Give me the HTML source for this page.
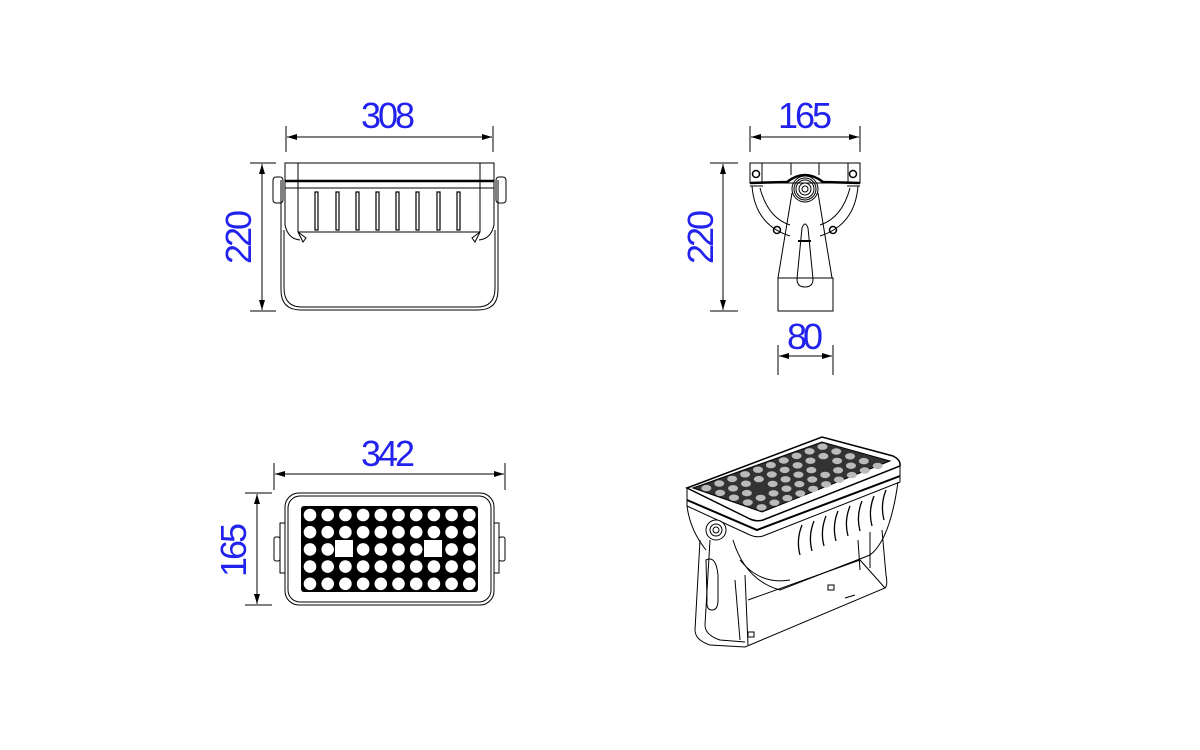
<!DOCTYPE html>
<html><head><meta charset="utf-8"><style>
html,body{margin:0;padding:0;background:#fff;}
svg{display:block;}
text{font-family:"Liberation Sans",sans-serif;font-size:36px;fill:#2222ee;}
</style></head><body>
<svg width="1200" height="750" viewBox="0 0 1200 750" xmlns="http://www.w3.org/2000/svg">
<defs>
<marker id="a" viewBox="0 0 10 6" refX="10" refY="3" markerWidth="10" markerHeight="6" orient="auto-start-reverse" markerUnits="userSpaceOnUse"><path d="M0,0 L10,3 L0,6z" fill="#000"/></marker>
</defs>
<g stroke="#000" stroke-width="1" fill="none">
<!-- ===== Top-left view ===== -->
<line x1="286" y1="126" x2="286" y2="152"/><line x1="493" y1="126" x2="493" y2="152"/>
<line x1="287" y1="137" x2="492" y2="137" marker-start="url(#a)" marker-end="url(#a)"/>
<line x1="250" y1="163" x2="276" y2="163"/><line x1="250" y1="311" x2="276" y2="311"/>
<line x1="262" y1="164" x2="262" y2="310" marker-start="url(#a)" marker-end="url(#a)"/>
<rect x="285" y="163" width="209" height="18"/>
<line x1="298" y1="163" x2="298" y2="232"/><line x1="480" y1="163" x2="480" y2="232"/>
<line x1="285" y1="181" x2="494" y2="181" stroke-width="2.5"/>
<line x1="285" y1="188" x2="494" y2="188"/>
<line x1="298" y1="232" x2="480" y2="232"/>
<path d="M285,181 L285,225 Q288,239 300,240"/><path d="M494,181 L494,225 Q491,239 479,240"/>
<path d="M298,232 L303,242 L306,238z"/><path d="M480,232 L475,242 L472,238z"/>
<g stroke-width="1.2">
<rect x="315" y="192" width="3" height="38"/><rect x="336" y="192" width="3" height="38"/><rect x="356" y="192" width="3" height="38"/><rect x="376" y="192" width="3" height="38"/><rect x="396" y="192" width="3" height="38"/><rect x="416" y="192" width="3" height="38"/><rect x="437" y="192" width="3" height="38"/><rect x="457" y="192" width="3" height="38"/>
</g>
<path d="M281,180 L281,290 Q281,310 301,310 L478,310 Q498,310 498,290 L498,180"/>
<path d="M284,230 L284,288 Q284,307 302,307 L477,307 Q495,307 495,288 L495,230"/>
<rect x="273" y="177" width="10" height="26" rx="3"/><rect x="496" y="177" width="10" height="26" rx="3"/>
<!-- ===== Side view ===== -->
<line x1="750" y1="126" x2="750" y2="152"/><line x1="860" y1="126" x2="860" y2="152"/>
<line x1="751" y1="137" x2="859" y2="137" marker-start="url(#a)" marker-end="url(#a)"/>
<line x1="710" y1="163" x2="738" y2="163"/><line x1="710" y1="311" x2="738" y2="311"/>
<line x1="723" y1="164" x2="723" y2="310" marker-start="url(#a)" marker-end="url(#a)"/>
<rect x="750" y="163" width="110" height="20"/>
<line x1="762" y1="163" x2="762" y2="183"/><line x1="848" y1="163" x2="848" y2="183"/>
<line x1="791" y1="163" x2="791" y2="175"/><line x1="819" y1="163" x2="819" y2="175"/>
<path d="M750,183 L787,182 Q805,168 823,182 L860,183" stroke-width="2.5"/>
<path d="M752,186 Q755,225 790,236"/><path d="M858,186 Q855,225 820,236"/>
<path d="M760,188 Q768,218 790,225"/><path d="M850,188 Q842,218 820,225"/>
<line x1="750" y1="186" x2="763" y2="186"/><line x1="847" y1="186" x2="860" y2="186"/>
<circle cx="756" cy="174" r="3.5" stroke-width="1.5"/><circle cx="853" cy="174" r="3.5" stroke-width="1.5"/>
<circle cx="777" cy="230" r="3.5" stroke-width="1.5"/><circle cx="833" cy="230" r="3.5" stroke-width="1.5"/>
<circle cx="805" cy="189" r="13"/><circle cx="805" cy="189" r="11"/><circle cx="805" cy="189" r="9"/><circle cx="805" cy="189" r="6"/><circle cx="805" cy="189" r="3"/>
<path d="M792,193 L778,278 M818,193 L832,278"/>
<rect x="778" y="278" width="55" height="33"/>
<path d="M797,279 Q797,287 805,287 Q813,287 813,279 L808,228 Q805,220 802,228z"/>
<line x1="798" y1="241" x2="811" y2="241" stroke-width="2"/>
<line x1="778" y1="345" x2="778" y2="375"/><line x1="833" y1="345" x2="833" y2="375"/>
<line x1="779" y1="356" x2="832" y2="356" marker-start="url(#a)" marker-end="url(#a)"/>
<!-- ===== Front view ===== -->
<line x1="274" y1="463" x2="274" y2="490"/><line x1="505" y1="463" x2="505" y2="490"/>
<line x1="275" y1="474" x2="504" y2="474" marker-start="url(#a)" marker-end="url(#a)"/>
<line x1="245" y1="493" x2="272" y2="493"/><line x1="245" y1="605" x2="272" y2="605"/>
<line x1="257" y1="494" x2="257" y2="604" marker-start="url(#a)" marker-end="url(#a)"/>
<rect x="285" y="493" width="209" height="112" rx="14"/>
<rect x="288" y="496" width="203" height="106" rx="12"/>
<rect x="280" y="523" width="5" height="50"/><rect x="494" y="523" width="5" height="50"/>
<rect x="274" y="537" width="6" height="24" rx="2"/><rect x="499" y="537" width="6" height="24" rx="2"/>
</g>
<rect x="301" y="506" width="177" height="86" rx="3" fill="#000"/>
<g fill="#fff">
<rect x="335" y="540" width="18" height="17"/><rect x="424" y="540" width="18" height="17"/>
</g>
<g fill="#fff" id="leds"></g>
<!-- ===== Isometric ===== -->
<g stroke="#000" stroke-width="1" fill="none">
<path d="M687,488 L822,437 L893,456 Q901,460 900,466 L763,520 Q757,522 750,519 Z" fill="#fff" stroke-width="1.5"/>
<path d="M693,488 L822,442 L890,461 L762,512 Z" fill="#333"/>
<path d="M687,488 L687,506 L750,535 Q757,538 763,536 L900,482 L900,466" />
<path d="M687,500 L757,530 L900,476" stroke-width="2"/>
<path d="M687,506 Q690,530 706,550"/>
<path d="M733,540 Q745,580 780,590 L870,555 Q890,540 898,482"/>
<path d="M740,560 Q760,585 790,580"/>
<g stroke-width="1.3">
<path d="M800,555 Q796,540 802,525"/><path d="M812,551 Q808,536 814,521"/><path d="M824,546 Q820,531 826,516"/><path d="M836,541 Q832,526 838,511"/><path d="M848,536 Q844,521 850,506"/><path d="M860,531 Q856,516 862,501"/><path d="M872,526 Q868,511 874,496"/><path d="M884,520 Q880,505 886,490"/>
</g>
<path d="M700,540 L695,630 Q695,640 710,645 L745,647 L885,588 Q888,585 886,575 L882,530"/>
<path d="M710,540 L705,625 Q705,635 720,640 L745,642"/>
<path d="M735,580 L740,640 M745,575 L748,645"/>
<path d="M748,600 L860,560 L885,588"/>
<path d="M706,560 Q716,555 718,575 L718,600 Q718,610 712,610 Q706,610 707,600 Z"/>
<path d="M858,540 L860,570 M870,532 L870,568"/>
<circle cx="716" cy="530" r="10" fill="#fff"/><circle cx="716" cy="530" r="6"/><circle cx="716" cy="530" r="3"/>
<rect x="828" y="585" width="6" height="5"/><rect x="748" y="632" width="6" height="5"/>
<path d="M845,598 L855,595"/>
</g>
<g id="iso" fill="#fff"></g>
<text x="388" y="128" text-anchor="middle" textLength="54">308</text>
<text x="805" y="128" text-anchor="middle" textLength="54">165</text>
<text x="805" y="349" text-anchor="middle" textLength="36">80</text>
<text x="388" y="466" text-anchor="middle" textLength="54">342</text>
<text transform="translate(251,237) rotate(-90)" text-anchor="middle" textLength="54">220</text>
<text transform="translate(713,237) rotate(-90)" text-anchor="middle" textLength="54">220</text>
<text transform="translate(246,550) rotate(-90)" text-anchor="middle" textLength="54">165</text>
</svg>
<script>
var g=document.getElementById('leds'),ns='http://www.w3.org/2000/svg';
for(var r=0;r<5;r++)for(var c=0;c<10;c++){
 if(r==2&&(c==2||c==7))continue;
 var e=document.createElementNS(ns,'circle');
 e.setAttribute('cx',310+c*17.7);e.setAttribute('cy',515+r*17.2);e.setAttribute('r',6.3);
 g.appendChild(e);}
var h=document.getElementById('iso');
var A=[693,488],B=[822,442],D=[762,512];
for(var r=0;r<5;r++)for(var c=0;c<10;c++){
 if(r==2&&(c==2||c==7))continue;
 var u=(c+0.5)/10,v=(r+0.5)/5;
 var x=A[0]+u*(B[0]-A[0])+v*(D[0]-A[0]),y=A[1]+u*(B[1]-A[1])+v*(D[1]-A[1]);
 var e=document.createElementNS(ns,'ellipse');
 e.setAttribute('cx',x);e.setAttribute('cy',y);e.setAttribute('rx',5);e.setAttribute('ry',3.2);
 e.setAttribute('fill','#bbb');
 h.appendChild(e);}
</script>
</body></html>
